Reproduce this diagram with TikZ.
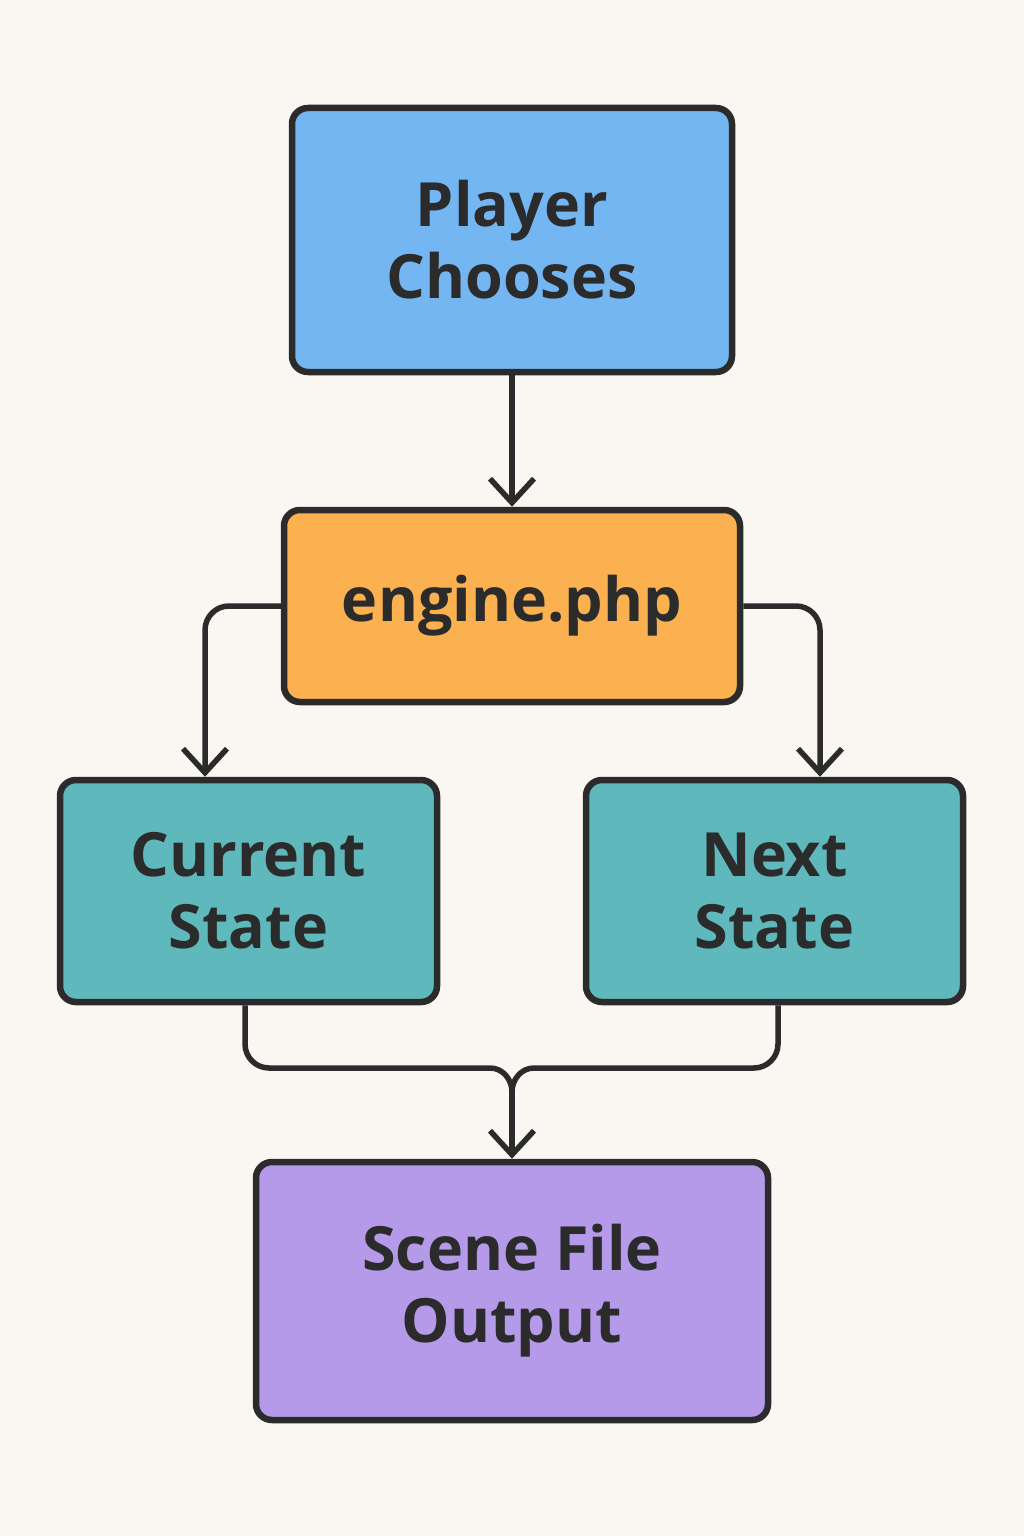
\documentclass[tikz,border=0pt]{standalone}
\usepackage{fontspec}
\setmainfont{Open Sans}
\usetikzlibrary{arrows.meta}
\definecolor{bg}{HTML}{FAF7F2}
\definecolor{ink}{HTML}{2B2B2B}
\definecolor{cblue}{HTML}{74B6F2}
\definecolor{corange}{HTML}{FBB150}
\definecolor{cteal}{HTML}{5FB9BC}
\definecolor{cpurple}{HTML}{B59AEA}
\begin{document}
\begin{tikzpicture}[x=1pt,y=-1pt,
  box/.style={draw=ink,line width=6.5pt,rounded corners=16pt,align=center,text=ink,
    font=\fontsize{61}{72}\selectfont\bfseries, inner sep=0pt},
  ln/.style={draw=ink,line width=5.5pt,rounded corners=24pt},
  conn/.style={ln,-{Straight Barb[length=24pt,width=44pt,line width=5.5pt]}}]
\fill[bg] (0,0) rectangle (1024,1536);
\useasboundingbox (0,0) rectangle (1024,1536);
\node[box,fill=cblue,minimum width=440pt,minimum height=264pt] (p) at (512,240) {Player\\Chooses};
\node[box,fill=corange,minimum width=456pt,minimum height=192pt] (e) at (512,606) {engine.php};
\node[box,fill=cteal,minimum width=377pt,minimum height=222pt] (c) at (248.5,891) {Current\\State};
\node[box,fill=cteal,minimum width=377pt,minimum height=222pt] (n) at (774.5,891) {Next\\State};
\node[box,fill=cpurple,minimum width=512pt,minimum height=258pt] (s) at (512,1291) {Scene File\\Output};
\coordinate (ml) at (490,1068);
\coordinate (mr) at (534,1068);
\coordinate (m) at (512,1092);
\draw[conn] (p.south) -- (e.north);
\draw[conn] (e.west) -| (c.north -| 205,0);
\draw[conn] (e.east) -| (n.north -| 820,0);
\draw[ln] (c.south -| 245,0) |- (ml);
\draw[ln] (n.south -| 778,0) |- (mr);
\draw[ln,rounded corners=0pt] (ml) to[out=0,in=90] (m);
\draw[ln,rounded corners=0pt] (mr) to[out=180,in=90] (m);
\draw[conn,rounded corners=0pt] (m) -- (s.north);
\end{tikzpicture}
\end{document}
